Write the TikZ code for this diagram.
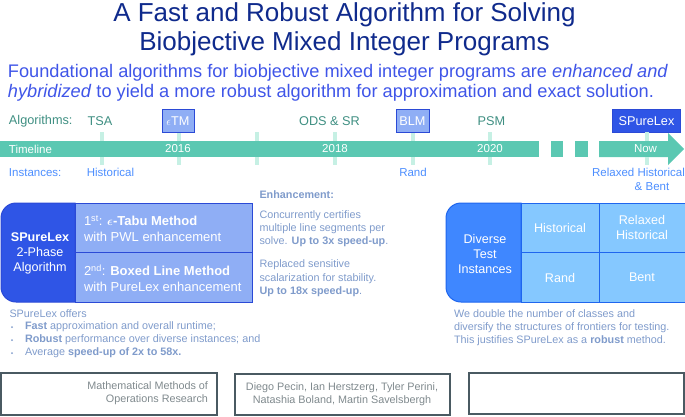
\documentclass[tikz,border=0pt]{standalone}
\usepackage{fontspec}
\setmainfont{Liberation Sans}
\usepackage{amsmath}
\definecolor{titlec}{HTML}{0F2A8C}
\definecolor{introc}{HTML}{3F55E8}
\definecolor{teal}{HTML}{3F8F82}
\definecolor{barc}{HTML}{5BC8B2}
\definecolor{tickc}{HTML}{C6F0E4}
\definecolor{instc}{HTML}{4C8EFF}
\definecolor{lightb}{HTML}{8FAEF5}
\definecolor{lightedge}{HTML}{2B4AD6}
\definecolor{darkb}{HTML}{2F55E6}
\definecolor{skyb}{HTML}{85C8FF}
\definecolor{midb}{HTML}{3F87FF}
\definecolor{skyedge}{HTML}{1F66EE}
\definecolor{notec}{HTML}{7F9BCB}
\definecolor{frame}{HTML}{4A5A62}
\definecolor{greyt}{HTML}{808A8E}
\tikzset{
  txt/.style={inner sep=0pt,outer sep=0pt,align=left},
  alg/.style={txt,text=teal,font=\fontsize{12.7}{15}\selectfont},
  inst/.style={txt,text=instc,font=\fontsize{11.5}{14}\selectfont},
  barlabel/.style={txt,text=white,font=\fontsize{11.5}{14}\selectfont},
  tick/.style={draw=tickc,line width=3.3pt},
  bar/.style={fill=barc,draw=none},
  algbox/.style={fill=lightb,draw=lightedge,line width=1pt},
  note/.style={txt,text=notec,font=\fontsize{10.8}{13.2}\selectfont},
  cellw/.style={txt,text=white,align=center,font=\fontsize{12.6}{15}\selectfont},
  refbox/.style={draw=frame,line width=2pt,fill=white},
  refc/.style={txt,text=greyt,font=\fontsize{10.8}{13}\selectfont},
}
\begin{document}
\begin{tikzpicture}[x=1pt,y=-1pt]
\useasboundingbox (0,0) rectangle (685,416);
\node[txt,text=titlec,align=center,font=\fontsize{26}{29.5}\selectfont] (title) at (344.5,29.5) {A Fast and Robust Algorithm for Solving\\Biobjective Mixed Integer Programs};
\node[txt,text=introc,anchor=north west,font=\fontsize{18.2}{20}\selectfont] (intro) at (8,64) {Foundational algorithms for biobjective mixed integer programs are \textit{enhanced and}\\\textit{hybridized} to yield a more robust algorithm for approximation and exact solution.};

% ticks
\foreach \n/\x in {a/102,b/179,c/257,d/335,e/413,f/490,g/647}{
  \coordinate (t\n u) at (\x,132); \coordinate (t\n d) at (\x,165);
  \draw[tick] (t\n u) -- (t\n d);
}
% bar
\fill[bar] (0,141) rectangle (539,157);
\fill[bar] (551,141) rectangle (563,157);
\fill[bar] (575,141) rectangle (588,157);
\fill[bar] (599,141) -- (668,141) -- (668,133) -- (684,149) -- (668,165) -- (668,157) -- (599,157) -- cycle;
\foreach \n/\x in {a/102,b/179,c/257,d/335,e/413,f/490,g/647}{
  \draw[tick] (\x,157) -- (\x,165);
}
% algorithm boxes
\draw[algbox] (162,109) rectangle (194,132);
\draw[algbox] (396,109) rectangle (429,132);
\draw[fill=darkb,draw=lightedge,line width=1pt] (612,109) rectangle (680,132);
\draw[tick] (647,132) -- (647,141);

\node[alg,anchor=west] (algs) at (9,121) {Algorithms:};
\node[alg] (tsa) at (100,121) {TSA};
\node[alg,text=white] (etm) at (178,121) {$\epsilon$TM};
\node[alg] (ods) at (329.5,121) {ODS \& SR};
\node[alg,text=white] (blm) at (412.5,121) {BLM};
\node[alg] (psm) at (491.5,121) {PSM};
\node[alg,text=white] (spl) at (646.5,121) {SPureLex};

\node[barlabel,anchor=west] (tl) at (9,149) {Timeline};
\node[barlabel] (y16) at (178,149) {2016};
\node[barlabel] (y18) at (335,149) {2018};
\node[barlabel] (y20) at (490,149) {2020};
\node[barlabel] (now) at (645.5,149) {Now};

\node[inst,anchor=west] (insts) at (9,172.7) {Instances:};
\node[inst] (hist) at (110.5,172.7) {Historical};
\node[inst] (rand) at (413,172.7) {Rand};
\node[inst] (rel) at (638.5,172.7) {Relaxed Historical};
\node[inst] (relb) at (652,186.7) {\& Bent};

% left block
\draw[fill=darkb,draw=lightedge,line width=1pt] (75,203) -- (75,302) -- (16,302) arc[start angle=90,end angle=180,x radius=15pt,y radius=-15pt] -- (1,218) arc[start angle=180,end angle=270,x radius=15pt,y radius=-15pt] -- cycle;
\draw[fill=lightb,draw=lightedge,line width=1pt] (75.5,203) rectangle (252,252);
\draw[fill=lightb,draw=lightedge,line width=1pt] (75.5,252) rectangle (252,302);
\node[cellw] (phase) at (40,253.5) {\textbf{SPureLex}\\2-Phase\\Algorithm};
\node[txt,text=white,anchor=west,font=\fontsize{13}{15.5}\selectfont] (m1) at (84,228.5) {1\textsuperscript{st}: \textbf{$\boldsymbol\epsilon$-Tabu Method}\\with PWL enhancement};
\node[txt,text=white,anchor=west,font=\fontsize{13}{15.5}\selectfont] (m2) at (84,278) {2\textsuperscript{nd}: \textbf{Boxed Line Method}\\with PureLex enhancement};

% enhancement notes
\node[note,anchor=west] (enh) at (259.5,195) {\textbf{Enhancement:}};
\node[note,anchor=north west] (n1) at (259.5,210.5) {Concurrently certifies\\multiple line segments per\\solve. \textbf{Up to 3x speed-up}.};
\node[note,anchor=north west] (n2) at (259.5,260) {Replaced sensitive\\scalarization for stability.\\\textbf{Up to 18x speed-up}.};

\node[note,anchor=west] (offers) at (9.5,314) {SPureLex offers};
\node[note,anchor=west] (b1) at (25,327) {\textbf{Fast} approximation and overall runtime;};
\node[note,anchor=west] (b2) at (25,340) {\textbf{Robust} performance over diverse instances; and};
\node[note,anchor=west] (b3) at (25,353) {Average \textbf{speed-up of 2x to 58x.}};
\foreach \y in {327,340,353} \fill[notec] (12,\y) circle (1pt);

% right block
\draw[fill=midb,draw=skyedge,line width=1pt] (521,203) -- (521,302) -- (461,302) arc[start angle=90,end angle=180,x radius=15pt,y radius=-15pt] -- (446,218) arc[start angle=180,end angle=270,x radius=15pt,y radius=-15pt] -- cycle;
\draw[fill=skyb,draw=skyedge,line width=1pt] (521,203) rectangle (599.5,252);
\draw[fill=skyb,draw=skyedge,line width=1pt] (599.5,203) rectangle (685,252);
\draw[fill=skyb,draw=skyedge,line width=1pt] (521,252) rectangle (599.5,302);
\draw[fill=skyb,draw=skyedge,line width=1pt] (599.5,252) rectangle (685,302);
\node[cellw] (div) at (485,253.5) {Diverse\\Test\\Instances};
\node[cellw] (c1) at (560,228) {Historical};
\node[cellw] (c2) at (642,227.5) {Relaxed\\Historical};
\node[cellw] (c3) at (560,277.5) {Rand};
\node[cellw] (c4) at (642,277.5) {Bent};
\node[note,anchor=north west] (dbl) at (454,309.5) {We double the number of classes and\\diversify the structures of frontiers for testing.\\This justifies SPureLex as a \textbf{robust} method.};

% bottom boxes
\draw[refbox] (1,373) rectangle (216.5,415);
\draw[refbox] (234.5,374) rectangle (450,414.5);
\draw[refbox] (468.5,373) rectangle (684,414);
\node[refc,align=right,anchor=east] (jr) at (208,393) {Mathematical Methods of\\Operations Research};
\node[refc,align=center] (au) at (342,394.5) {Diego Pecin, Ian Herstzerg, Tyler Perini,\\Natashia Boland, Martin Savelsbergh};
\end{tikzpicture}
\end{document}
